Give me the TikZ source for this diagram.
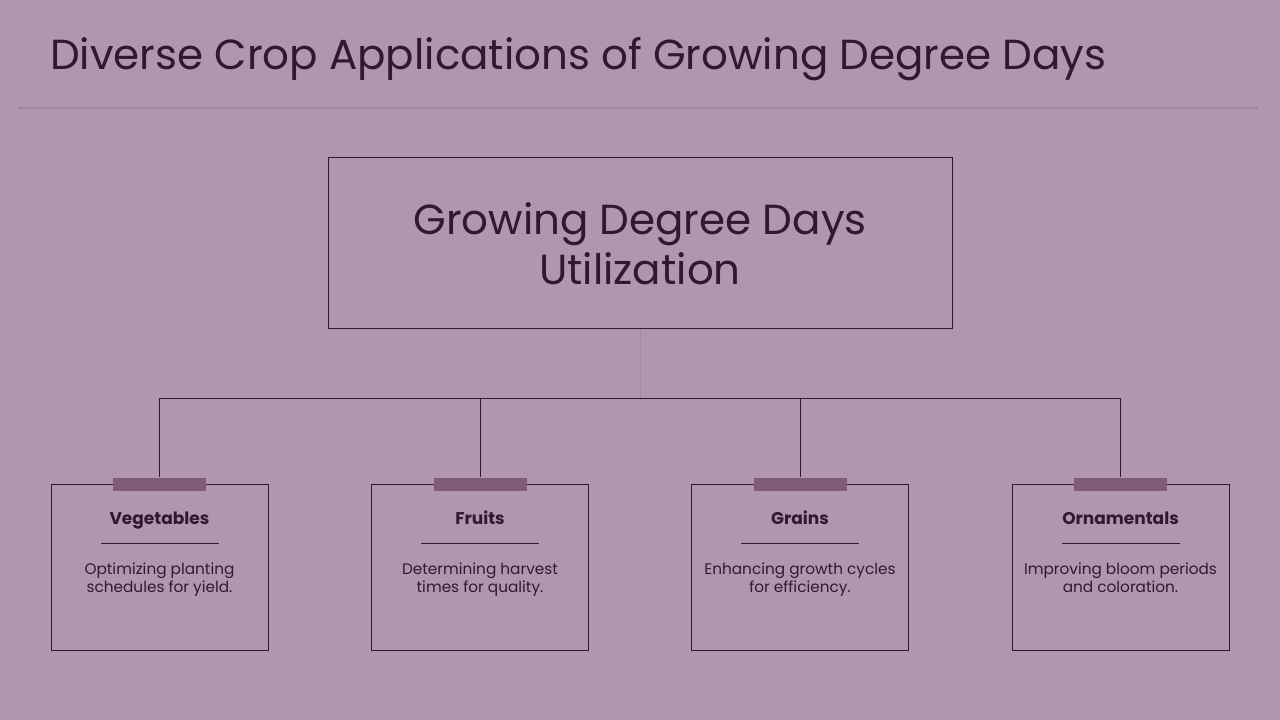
\documentclass[tikz,border=0pt]{standalone}
\usepackage{fontspec}
\setmainfont{Poppins}
\definecolor{bg}{HTML}{B196AF}
\definecolor{ink}{HTML}{301A30}
\definecolor{tabc}{HTML}{7D5B79}
\definecolor{sep}{HTML}{A3849C}
\definecolor{faint}{HTML}{A489A2}
\begin{document}
\begin{tikzpicture}[x=1pt,y=-1pt,
  childbox/.style={draw=ink,line width=1pt,minimum width=217pt,minimum height=166pt,inner sep=0pt},
  tabbox/.style={fill=tabc,minimum width=93pt,minimum height=13pt,inner sep=0pt},
  headtxt/.style={text=ink,font=\fontsize{17}{20}\selectfont\bfseries,anchor=base,inner sep=0pt},
  desctxt/.style={text=ink,font=\fontsize{15.3}{18}\selectfont,anchor=base,inner sep=0pt},
  conn/.style={draw=ink,line width=1pt}]
\fill[bg] (0,0) rectangle (1280,720);
\useasboundingbox (0,0) rectangle (1280,720);
\node[anchor=base west,text=ink,font=\fontsize{42}{50}\selectfont,inner sep=0pt] (title) at (50,69) {Diverse Crop Applications of Growing Degree Days};
\draw[sep,line width=2pt] (18,108) -- (1258,108);
\node[draw=ink,line width=1pt,minimum width=624pt,minimum height=171pt,inner sep=0pt] (root) at (640,242.5) {};
\node[text=ink,font=\fontsize{42}{50}\selectfont,anchor=base,inner sep=0pt] (roottxta) at (640,234) {Growing Degree Days};
\node[text=ink,font=\fontsize{42}{50}\selectfont,anchor=base,inner sep=0pt] (roottxtb) at (640,284) {Utilization};
\coordinate (hub) at (640,398);
\draw[faint,line width=1pt] (root.south) -- (hub);
\foreach \n/\x/\h/\da/\db in {veg/159.5/Vegetables/Optimizing planting/schedules for yield.,
                              fru/480/Fruits/Determining harvest/times for quality.,
                              gra/800/Grains/Enhancing growth cycles/for efficiency.,
                              orn/1120.5/Ornamentals/Improving bloom periods/and coloration.}{
  \node[childbox] (\n) at (\x,567) {};
  \node[tabbox] (\n tab) at (\x,484) {};
  \node[headtxt] (\n head) at (\x,524) {\h};
  \draw[ink,line width=1pt] (\x-59,543) -- (\x+59,543);
  \node[desctxt] (\n desca) at (\x,574) {\da};
  \node[desctxt] (\n descb) at (\x,592) {\db};
  \coordinate (\n top) at (\x,398);
  \draw[conn] (\n top) -- (\n tab.north);
}
\draw[conn] (vegtop) -- (orntop);
\end{tikzpicture}
\end{document}
